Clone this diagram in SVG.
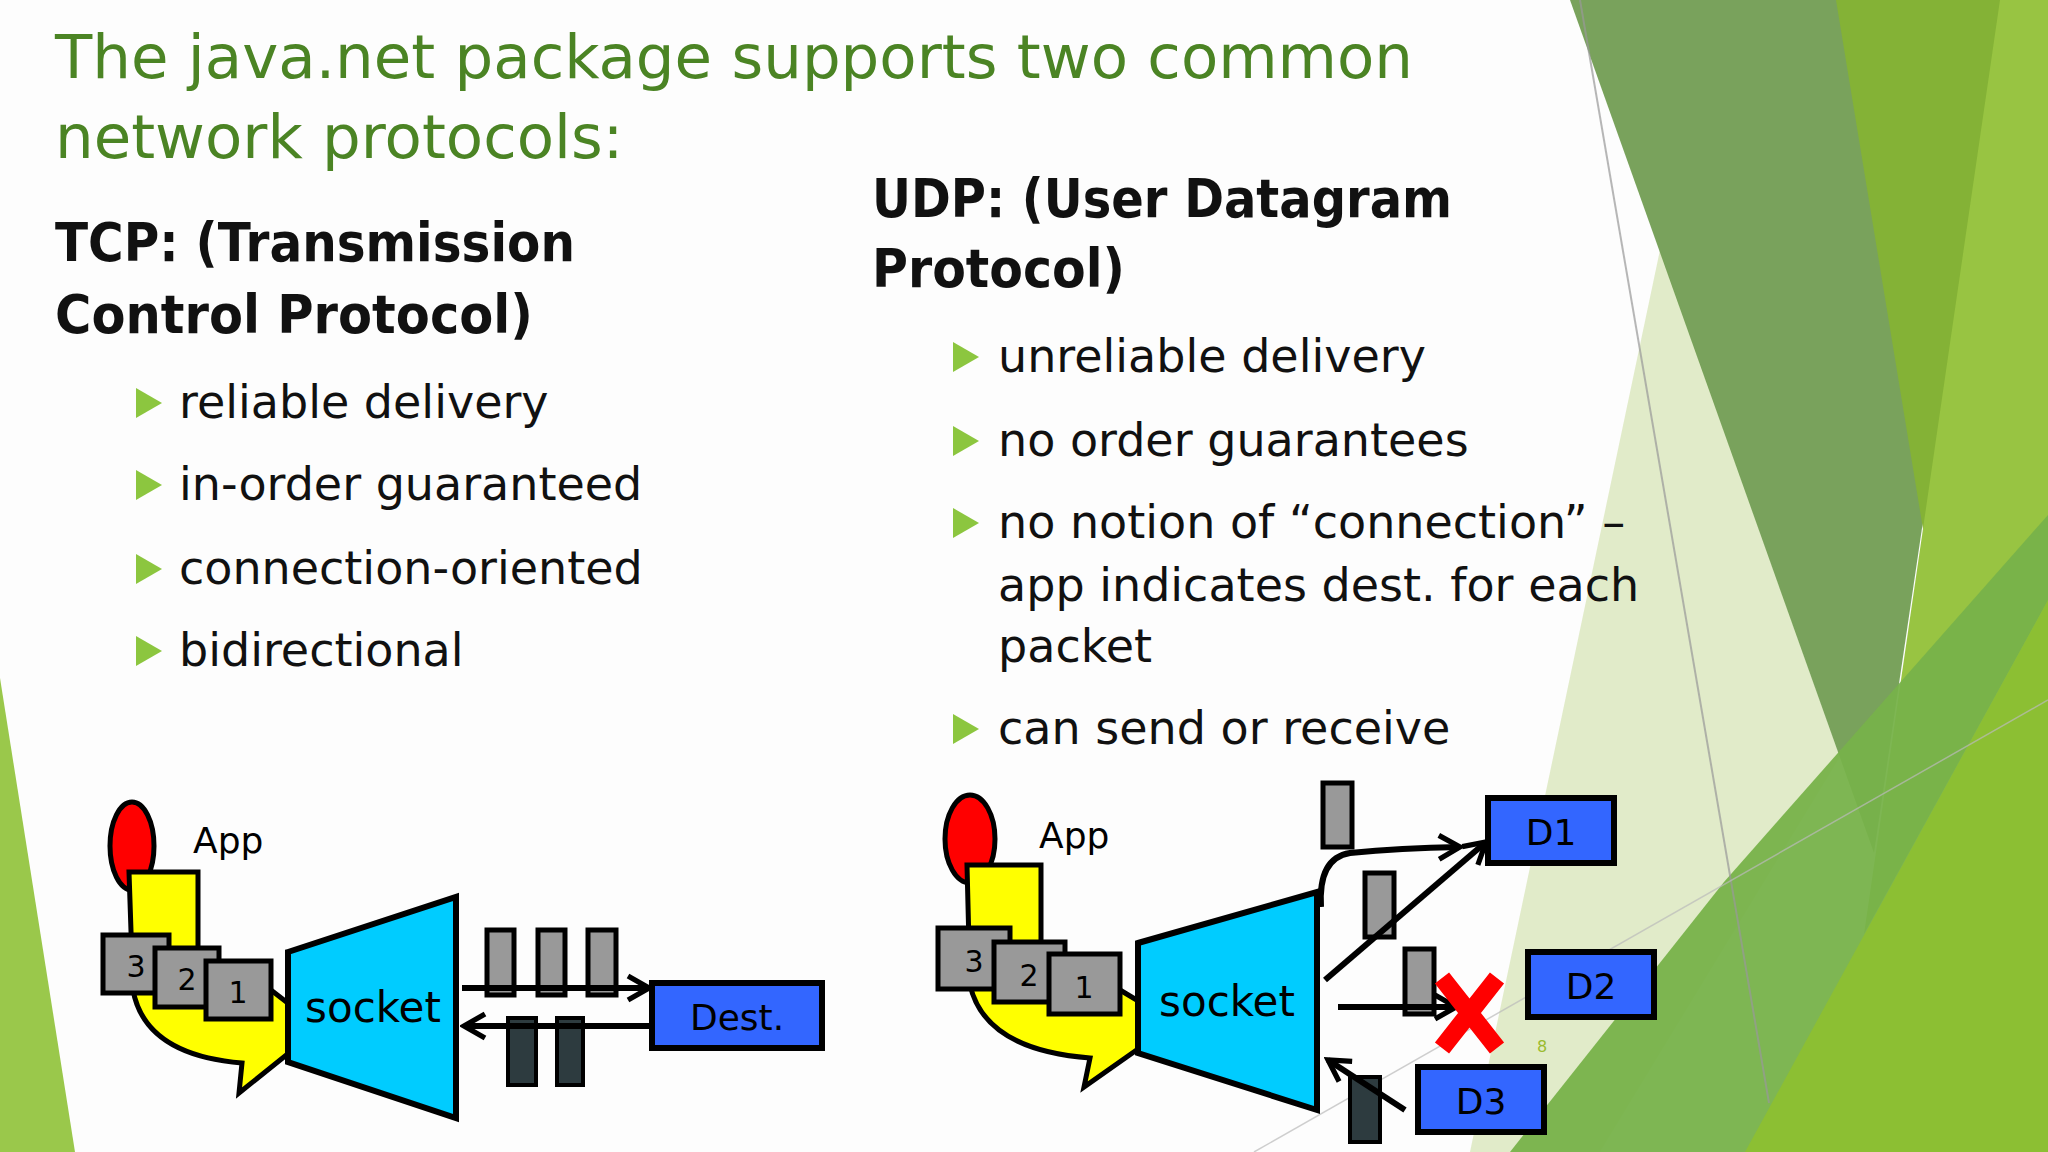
<svg xmlns="http://www.w3.org/2000/svg" width="2048" height="1152" viewBox="0 0 2048 1152">
<defs>
<style>
.t{font-family:"DejaVu Sans","Noto Sans",sans-serif}
.title{fill:#4b8424;font-size:61px}
.h{font-size:54px;font-weight:bold;fill:#111}
.b{font-size:46px;fill:#111}
.tri{fill:#8cc63f}
.ln{stroke:#000;stroke-width:6;fill:none}
.pk{fill:#999;stroke:#000;stroke-width:5}
.dk{fill:#2d3b3f;stroke:#000;stroke-width:4}
.box{fill:#3366ff;stroke:#000;stroke-width:6}
.gb{fill:#999;stroke:#000;stroke-width:5}
.lbl{font-family:"DejaVu Sans",sans-serif;fill:#000}
</style>
<marker id="ah" viewBox="0 0 20 20" refX="17" refY="10" markerWidth="5" markerHeight="5" orient="auto" markerUnits="strokeWidth"><path d="M3,2 L17,10 L3,18" fill="none" stroke="#000" stroke-width="3.5"/></marker>
</defs>
<rect width="2048" height="1152" fill="#fdfdfd"/>
<g id="background">
<polygon points="0,678 75,1152 0,1152" fill="#9ac84b"/>
<polygon points="1660,250 1840,757 1600,1152 1470,1152" fill="#dce8c0" opacity="0.85"/>
<polygon points="1570,0 2000,0 1874,853" fill="#6e9a4e" opacity="0.92"/>
<polygon points="1836,0 2048,0 2048,515 1958,757 1923,529" fill="#84b236"/>
<polygon points="2000,0 2048,0 2048,600 1864,934" fill="#98c442"/>
<polygon points="1510,1152 1724,882 2048,515 2048,1152" fill="#77b24a" opacity="0.95"/>
<polygon points="1745,1152 2048,600 2048,1152" fill="#8ec030" opacity="0.9"/>
<line x1="1580" y1="0" x2="1769" y2="1103" stroke="#999" stroke-width="2" opacity="0.7"/>
<line x1="1254" y1="1152" x2="2048" y2="700" stroke="#bbb" stroke-width="1.5" opacity="0.7"/>
</g>
<g id="text">
<text class="t title" x="55" y="78">The java.net package supports two common</text>
<text class="t title" x="55" y="158">network protocols:</text>
<text class="t h" x="55" y="261" textLength="520" lengthAdjust="spacingAndGlyphs">TCP: (Transmission</text>
<text class="t h" x="55" y="333" textLength="478" lengthAdjust="spacingAndGlyphs">Control Protocol)</text>
<text class="t h" x="872" y="217" textLength="580" lengthAdjust="spacingAndGlyphs">UDP: (User Datagram</text>
<text class="t h" x="872" y="287" textLength="253" lengthAdjust="spacingAndGlyphs">Protocol)</text>
<g>
<polygon class="tri" points="136,388 162,403 136,418"/><text class="t b" x="179" y="418">reliable delivery</text>
<polygon class="tri" points="136,470 162,485 136,500"/><text class="t b" x="179" y="500">in-order guaranteed</text>
<polygon class="tri" points="136,554 162,569 136,584"/><text class="t b" x="179" y="584">connection-oriented</text>
<polygon class="tri" points="136,636 162,651 136,666"/><text class="t b" x="179" y="666">bidirectional</text>
</g>
<g>
<polygon class="tri" points="953,342 979,357 953,372"/><text class="t b" x="998" y="372">unreliable delivery</text>
<polygon class="tri" points="953,426 979,441 953,456"/><text class="t b" x="998" y="456">no order guarantees</text>
<polygon class="tri" points="953,508 979,523 953,538"/><text class="t b" x="998" y="538">no notion of “connection” –</text>
<text class="t b" x="998" y="601">app indicates dest. for each</text>
<text class="t b" x="998" y="662">packet</text>
<polygon class="tri" points="953,714 979,729 953,744"/><text class="t b" x="998" y="744">can send or receive</text>
</g>
</g>
<g id="tcp-app">
<ellipse cx="132" cy="846" rx="22" ry="44" fill="#f00" stroke="#000" stroke-width="5"/>
<path d="M129,872 H198 V985 Q215,1015 255,1012 L271,990 L320,1028 L239,1093 L242,1063 Q145,1055 133,990 Z" fill="#ff0" stroke="#000" stroke-width="5"/>
<text class="lbl" x="193" y="853" font-size="36">App</text>
<rect class="gb" x="103" y="935" width="66" height="58"/><text class="lbl" x="136" y="977" font-size="30" text-anchor="middle">3</text>
<rect class="gb" x="155" y="948" width="64" height="59"/><text class="lbl" x="187" y="990" font-size="30" text-anchor="middle">2</text>
<rect class="gb" x="206" y="961" width="65" height="58"/><text class="lbl" x="238" y="1003" font-size="30" text-anchor="middle">1</text>
</g>
<g id="tcp-socket">
<polygon points="288,952 456,897 456,1118 288,1062" fill="#00ccff" stroke="#000" stroke-width="6"/>
<text class="lbl" x="373" y="1022" font-size="42" text-anchor="middle">socket</text>
</g>
<g id="tcp-dest">
<rect class="box" x="652" y="983" width="170" height="65"/>
<text class="lbl" x="737" y="1030" font-size="36" text-anchor="middle">Dest.</text>
</g>
<g id="tcp-packets">
<rect class="pk" x="487" y="930" width="27" height="65"/>
<rect class="pk" x="538" y="930" width="27" height="65"/>
<rect class="pk" x="588" y="930" width="28" height="65"/>
<rect class="dk" x="508" y="1018" width="28" height="67"/>
<rect class="dk" x="557" y="1018" width="26" height="67"/>
</g>
<g id="udp-app">
<ellipse cx="970" cy="839" rx="25" ry="44" fill="#f00" stroke="#000" stroke-width="5"/>
<path d="M967,865 H1041 V985 Q1060,1012 1100,1010 L1120,990 L1175,1023 L1084,1087 L1090,1058 Q985,1050 970,985 Z" fill="#ff0" stroke="#000" stroke-width="5"/>
<text class="lbl" x="1039" y="848" font-size="36">App</text>
<rect class="gb" x="938" y="928" width="72" height="61"/><text class="lbl" x="974" y="972" font-size="30" text-anchor="middle">3</text>
<rect class="gb" x="994" y="942" width="71" height="60"/><text class="lbl" x="1029" y="986" font-size="30" text-anchor="middle">2</text>
<rect class="gb" x="1049" y="954" width="71" height="60"/><text class="lbl" x="1084" y="998" font-size="30" text-anchor="middle">1</text>
</g>
<g id="udp-socket">
<polygon points="1138,943 1317,892 1317,1110 1138,1053" fill="#00ccff" stroke="#000" stroke-width="6"/>
<text class="lbl" x="1227" y="1016" font-size="42" text-anchor="middle">socket</text>
</g>
<g id="d1"><rect class="box" x="1488" y="798" width="126" height="65"/><text class="lbl" x="1551" y="845" font-size="36" text-anchor="middle">D1</text></g>
<g id="d2"><rect class="box" x="1528" y="952" width="126" height="65"/><text class="lbl" x="1591" y="999" font-size="36" text-anchor="middle">D2</text></g>
<g id="d3"><rect class="box" x="1418" y="1067" width="126" height="65"/><text class="lbl" x="1481" y="1114" font-size="36" text-anchor="middle">D3</text></g>
<g id="udp-packets">
<rect class="pk" x="1323" y="783" width="29" height="64"/>
<rect class="pk" x="1365" y="873" width="29" height="64"/>
<rect class="pk" x="1405" y="949" width="29" height="65"/>
<rect class="dk" x="1350" y="1077" width="30" height="65"/>
</g>
<g id="connectors">
<line class="ln" x1="462" y1="988" x2="649" y2="988" marker-end="url(#ah)"/>
<line class="ln" x1="652" y1="1026" x2="464" y2="1026" marker-end="url(#ah)"/>
<path class="ln" d="M1321,907 Q1318,858 1350,853 Q1400,848 1460,847" marker-end="url(#ah)"/>
<line class="ln" x1="1325" y1="980" x2="1486" y2="842" marker-end="url(#ah)"/>
<line class="ln" x1="1338" y1="1007" x2="1456" y2="1007" marker-end="url(#ah)"/>
<line class="ln" x1="1405" y1="1110" x2="1328" y2="1060" marker-end="url(#ah)"/>
</g>
<g id="x-mark">
<path d="M1442,978 L1497,1048 M1497,978 L1442,1048" stroke="#f00" stroke-width="18"/>
</g>
<text class="t" x="1537" y="1052" font-size="16" fill="#9bbb2e">8</text>
</svg>
